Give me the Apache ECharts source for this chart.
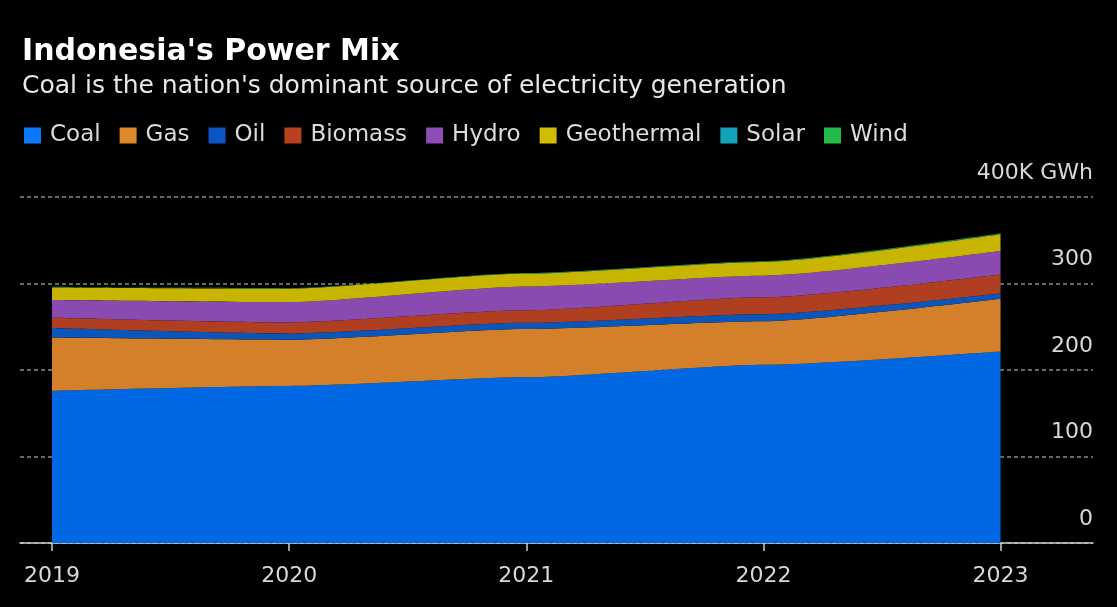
<!DOCTYPE html>
<html>
<head>
<meta charset="utf-8">
<script src="https://cdn.jsdelivr.net/npm/echarts@6/dist/echarts.min.js"></script>
<style>
  html, body { margin: 0; padding: 0; background: #000; }
  #chart { width: 1117px; height: 607px; }
</style>
</head>
<body>
<div id="chart"></div>
<script>
// data, thousand GWh
const years = [2019, 2020, 2021, 2022, 2023];
const coal = [176, 181.5, 191.5, 206, 221.5];
const gas = [61.5, 53.5, 56, 50.5, 61];
const oil = [11, 7, 7, 8, 6];
const biomass = [12, 13, 14.5, 19.5, 22];
const hydro = [20.5, 23.5, 27.5, 25, 27];
const geothermal = [14.5, 15.5, 15, 16, 19.5];
const solar = [0.2, 0.2, 0.3, 0.3, 0.5];
const wind = [0.5, 0.4, 0.4, 0.5, 0.5];

const FONT = "DejaVu Sans";

const chart = echarts.init(document.getElementById("chart"));

// area colour, legend swatch is a bit brighter in the original
const layers = [
  { name: "Coal", data: coal, color: "#0068e3", key: "#0a78fa" },
  { name: "Gas", data: gas, color: "#d4802a", key: "#de8a2c" },
  { name: "Oil", data: oil, color: "#0b56ba", key: "#0b56c2" },
  { name: "Biomass", data: biomass, color: "#b03e20", key: "#b8421f" },
  { name: "Hydro", data: hydro, color: "#8a4bb0", key: "#8e4cb6" },
  { name: "Geothermal", data: geothermal, color: "#c9b400", key: "#d2bc00" },
  { name: "Solar", data: solar, color: "#109fb6", key: "#12a2ba" },
  { name: "Wind", data: wind, color: "#22b84a", key: "#22bb48" },
];

// value first so the stack is done on the value, year is the x
const series = layers.map((l) => ({
  name: l.name,
  type: "line",
  stack: "total",
  smooth: 0.2,
  smoothMonotone: "x",
  symbol: "none",
  color: l.color,
  lineStyle: { width: 0 },
  areaStyle: { color: l.color, opacity: 1 },
  encode: { x: 1, y: 0 },
  data: years.map((y, i) => [l.data[i], y]),
}));

chart.setOption({
  backgroundColor: "#000",
  animation: false,
  title: {
    text: "Indonesia's Power Mix",
    subtext: "Coal is the nation's dominant source of electricity generation",
    left: 17,
    top: 32,
    itemGap: 7,
    textStyle: { color: "#fff", fontFamily: FONT, fontWeight: "bold", fontSize: 30 },
    subtextStyle: { color: "#e8e8e8", fontFamily: FONT, fontSize: 25 },
  },
  legend: {
    left: 19,
    top: 119,
    icon: "rect",
    itemWidth: 17,
    itemHeight: 16,
    itemGap: 19,
    textStyle: { color: "#dcdcdc", fontFamily: FONT, fontSize: 23, padding: [0, 0, 0, 4] },
    data: layers.map((l) => ({ name: l.name, itemStyle: { color: l.key } })),
  },
  grid: { left: 20, right: 24, top: 197, bottom: 64 },
  xAxis: {
    type: "value",
    min: 2018.865,
    max: 2023.39,
    splitLine: { show: false },
    axisLine: { show: true, lineStyle: { color: "#cfcfcf", width: 1.5 } },
    axisTick: { show: true, length: 8, customValues: years, lineStyle: { color: "#cfcfcf", width: 1.5 } },
    axisLabel: {
      customValues: years,
      color: "#d8d8d8",
      fontFamily: FONT,
      fontSize: 22,
      margin: 22,
      formatter: (v) => String(v),
    },
  },
  yAxis: {
    type: "value",
    position: "right",
    min: 0,
    max: 400,
    interval: 100,
    axisLine: { show: false },
    axisTick: { show: false },
    splitLine: { lineStyle: { color: "#8a8a8a", type: [4, 3], width: 1.5 } },
    axisLabel: {
      inside: true,
      margin: 0,
      color: "#d8d8d8",
      fontFamily: FONT,
      fontSize: 22,
      verticalAlign: "bottom",
      padding: [0, 0, 13, 0],
      formatter: (v) => (v === 400 ? "400K GWh" : String(v)),
    },
  },
  series: series,
});
</script>
</body>
</html>
